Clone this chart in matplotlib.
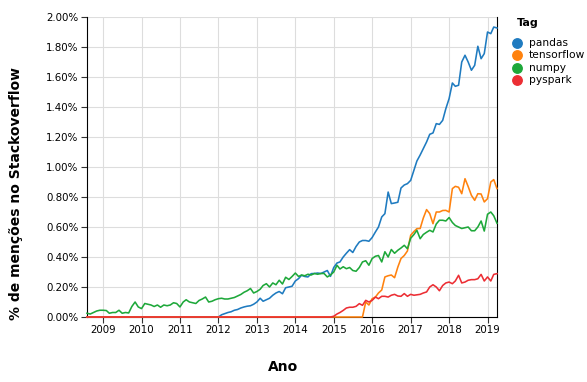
import matplotlib

matplotlib.use("Agg")
import matplotlib.dates as mdates
import matplotlib.pyplot as plt
import numpy as np
import pandas as pd
from matplotlib.lines import Line2D
from matplotlib.ticker import FuncFormatter, MultipleLocator


# monthly share of Stack Overflow questions (in %), Aug 2008 .. Apr 2019
START_MONTH = "2008-08-01"
TAGS = ["pandas", "tensorflow", "numpy", "pyspark"]
COLORS = ["#1f7bc0", "#ff820e", "#1ea83a", "#ec2e34"]

pandas_pct = (
    [0.0] * 5                      # 2008
    + [0.0] * 12                   # 2009
    + [0.0] * 12                   # 2010
    + [0.0] * 12                   # 2011
    + [0.0, 0.015, 0.022, 0.03, 0.035, 0.045, 0.05, 0.06, 0.067, 0.072, 0.075, 0.085]
    + [0.10, 0.125, 0.105, 0.115, 0.125, 0.145, 0.16, 0.17, 0.155, 0.195, 0.20, 0.205]
    + [0.24, 0.256, 0.278, 0.27, 0.267, 0.289, 0.29, 0.293, 0.29, 0.30, 0.31, 0.271]
    + [0.33, 0.36, 0.367, 0.40, 0.425, 0.449, 0.43, 0.47, 0.50, 0.51, 0.51, 0.505]
    + [0.53, 0.567, 0.60, 0.667, 0.689, 0.833, 0.756, 0.76, 0.765, 0.86, 0.88, 0.889]
    + [0.911, 0.978, 1.04, 1.08, 1.122, 1.167, 1.218, 1.227, 1.289, 1.284, 1.311, 1.389]
    + [1.456, 1.56, 1.538, 1.545, 1.70, 1.745, 1.70, 1.645, 1.678, 1.805, 1.722, 1.756]
    + [1.90, 1.889, 1.933, 1.927]  # 2019
)

tensorflow_pct = (
    [0.0] * 5
    + [0.0] * 12
    + [0.0] * 12
    + [0.0] * 12
    + [0.0] * 12
    + [0.0] * 12
    + [0.0] * 12
    + [0.0] * 10 + [0.10, 0.08]
    + [0.122, 0.133, 0.16, 0.18, 0.267, 0.275, 0.28, 0.262, 0.333, 0.39, 0.41, 0.44]
    + [0.545, 0.57, 0.589, 0.59, 0.66, 0.716, 0.689, 0.622, 0.70, 0.70, 0.71, 0.711]
    + [0.70, 0.856, 0.871, 0.865, 0.822, 0.922, 0.87, 0.811, 0.778, 0.822, 0.82, 0.767]
    + [0.789, 0.90, 0.916, 0.856]
)

numpy_pct = (
    [0.025, 0.02, 0.03, 0.04, 0.045]
    + [0.045, 0.043, 0.025, 0.03, 0.03, 0.045, 0.025, 0.03, 0.027, 0.07, 0.10, 0.067]
    + [0.056, 0.09, 0.085, 0.08, 0.07, 0.08, 0.065, 0.08, 0.075, 0.08, 0.095, 0.09]
    + [0.067, 0.10, 0.115, 0.10, 0.095, 0.09, 0.11, 0.12, 0.133, 0.10, 0.105, 0.115]
    + [0.122, 0.125, 0.12, 0.12, 0.125, 0.13, 0.14, 0.15, 0.165, 0.175, 0.19, 0.16]
    + [0.17, 0.185, 0.21, 0.222, 0.20, 0.227, 0.215, 0.245, 0.22, 0.265, 0.25, 0.27]
    + [0.293, 0.27, 0.28, 0.275, 0.285, 0.28, 0.29, 0.285, 0.29, 0.29, 0.267, 0.28]
    + [0.30, 0.345, 0.32, 0.335, 0.322, 0.33, 0.31, 0.305, 0.33, 0.367, 0.375, 0.345]
    + [0.39, 0.405, 0.41, 0.367, 0.435, 0.40, 0.45, 0.425, 0.445, 0.46, 0.478, 0.455]
    + [0.525, 0.55, 0.578, 0.522, 0.55, 0.565, 0.578, 0.567, 0.62, 0.645, 0.645, 0.64]
    + [0.663, 0.63, 0.61, 0.60, 0.59, 0.595, 0.60, 0.575, 0.575, 0.60, 0.64, 0.573]
    + [0.685, 0.70, 0.675, 0.625]
)

pyspark_pct = (
    [0.0] * 5
    + [0.0] * 12
    + [0.0] * 12
    + [0.0] * 12
    + [0.0] * 12
    + [0.0] * 12
    + [0.0] * 12
    + [0.005, 0.02, 0.03, 0.044, 0.06, 0.065, 0.065, 0.071, 0.089, 0.078, 0.111, 0.10]
    + [0.111, 0.133, 0.122, 0.138, 0.138, 0.133, 0.145, 0.151, 0.14, 0.138, 0.156, 0.138]
    + [0.151, 0.145, 0.148, 0.151, 0.16, 0.167, 0.20, 0.215, 0.20, 0.175, 0.21, 0.227]
    + [0.233, 0.222, 0.24, 0.278, 0.227, 0.233, 0.245, 0.249, 0.249, 0.255, 0.284, 0.24]
    + [0.267, 0.24, 0.284, 0.289]
)

SERIES = [pandas_pct, tensorflow_pct, numpy_pct, pyspark_pct]
W, H = 587, 382

months = pd.date_range(START_MONTH, periods=len(pandas_pct), freq="MS")
plt.rcParams["font.family"] = ["DejaVu Sans"]

fig = plt.figure(figsize=(W / 100, H / 100), dpi=100)
ax = fig.add_axes([87 / W, (H - 317) / H, 410 / W, 300 / H])

for tag, color, values in zip(TAGS, COLORS, SERIES):
    ax.plot(months, np.array(values), color=color, lw=1.15, clip_on=False, zorder=3)

ax.set_ylim(0, 2.0)
ax.set_xlim(months[0], months[-1])
ax.yaxis.set_major_locator(MultipleLocator(0.2))
ax.yaxis.set_major_formatter(FuncFormatter(lambda v, _: f"{v:.2f}%"))
ax.xaxis.set_major_locator(mdates.YearLocator())
ax.xaxis.set_major_formatter(mdates.DateFormatter("%Y"))

ax.grid(True, color="#dddddd", lw=0.8, zorder=0)
ax.set_axisbelow(True)
ax.spines["top"].set_visible(False)
for side in ("left", "right", "bottom"):
    ax.spines[side].set_color("black")
    ax.spines[side].set_linewidth(0.8)
ax.tick_params(axis="both", length=4, width=0.8, color="#333333", labelsize=7.4, pad=2)

ax.set_xlabel("Ano", fontsize=10, fontweight="bold")
ax.xaxis.set_label_coords((283 - 87) / 410, -(360 - 317) / 300)
ax.set_ylabel("% de menções no Stackoverflow", fontsize=10, fontweight="bold")
ax.yaxis.set_label_coords((23 - 87) / 410, (317 - 193) / 300)

# legend, laid out by hand to match the reference spacing
fig.text(517 / W, 1 - 23 / H, "Tag", fontsize=8, fontweight="bold", va="center", ha="left")
for k, (tag, color) in enumerate(zip(TAGS, COLORS)):
    y = 1 - (43 + 12.3 * k) / H
    fig.add_artist(Line2D([517 / W], [y], marker="o", markersize=6.8, color=color,
                          transform=fig.transFigure))
    fig.text(528.5 / W, y, tag, fontsize=7.7, va="center", ha="left")

fig.savefig("out.png", dpi=100)
